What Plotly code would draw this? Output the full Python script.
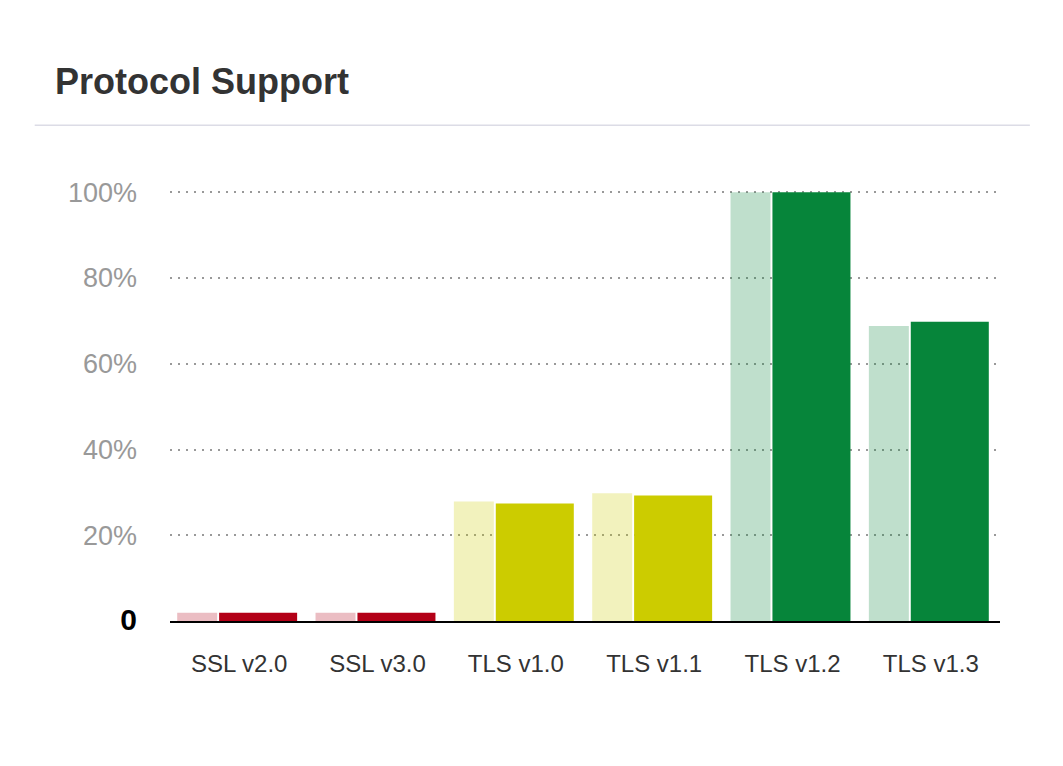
import plotly.graph_objects as go

protocols = ["SSL v2.0", "SSL v3.0", "TLS v1.0", "TLS v1.1", "TLS v1.2", "TLS v1.3"]
baseline_pct = [1.9, 1.9, 27.9, 29.8, 100.0, 68.8]
current_pct = [1.9, 1.9, 27.4, 29.3, 100.0, 69.8]
bar_colors = ["#b30017", "#b30017", "#cccc00", "#cccc00", "#06853a", "#06853a"]

y_ticks = [0, 20, 40, 60, 80, 100]
y_labels = ['<span style="color:#000;font-size:30px"><b>0</b></span>',
            "20%", "40%", "60%", "80%", "100%"]

fig = go.Figure()
fig.add_trace(go.Bar(x=protocols, y=baseline_pct, name="baseline",
                     marker=dict(color=bar_colors, opacity=0.26, line_width=0),
                     offset=-0.448, width=0.289, hoverinfo="x+y"))
fig.add_trace(go.Bar(x=protocols, y=current_pct, name="current",
                     marker=dict(color=bar_colors, line_width=0),
                     offset=-0.145, width=0.564, hoverinfo="x+y"))

# thin rule under the title
fig.add_shape(type="line", xref="paper", yref="paper",
              x0=-0.163, x1=1.036, y0=1.153, y1=1.153,
              line=dict(color="#dcdce6", width=1.5))

# page body adds an 8px margin, so the figure is 8px smaller each way
fig.update_layout(
    width=1055, height=758,
    barmode="overlay",
    showlegend=False,
    plot_bgcolor="white", paper_bgcolor="white",
    font=dict(family="Liberation Sans, Arial, sans-serif", color="#333"),
    margin=dict(l=162, r=63, t=183, b=145),
    title=dict(text="<b>Protocol Support</b>", font=dict(size=36, color="#333"),
               xref="container", x=47/1055, xanchor="left",
               yref="container", y=1 - 73/758, yanchor="middle"),
    xaxis=dict(showline=True, linecolor="#000", linewidth=2,
               showgrid=False, ticks="", ticklabelstandoff=20,
               tickfont=dict(size=24, color="#333"), range=[-0.5, 5.5]),
    yaxis=dict(range=[0, 100.3], tickvals=y_ticks, ticktext=y_labels,
               showgrid=True, gridcolor="#999", gridwidth=1.5, griddash="2px,6px",
               zeroline=False, showline=False, ticks="", ticklabelstandoff=32,
               tickfont=dict(size=27, color="#999")),
)

fig.write_html("out.html")
